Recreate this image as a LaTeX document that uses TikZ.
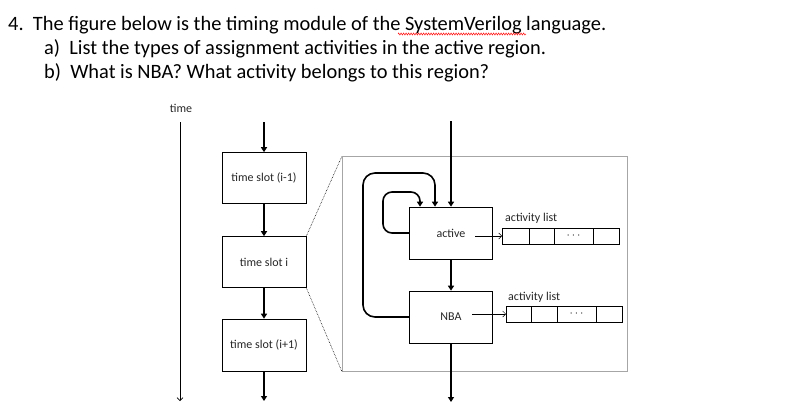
\documentclass[tikz,border=0pt]{standalone}
\usepackage{fontspec}
\setmainfont{Carlito}
\usetikzlibrary{arrows.meta,decorations.pathmorphing}
\begin{document}
\begin{tikzpicture}[x=1pt,y=-1pt,
  hd/.style={anchor=base west,inner sep=0,font=\fontsize{20.4}{24}\selectfont},
  sm/.style={inner sep=0,font=\fontsize{12}{14}\selectfont,text=black!85},
  box/.style={draw,line width=0.6pt},
  thick arr/.style={line width=1.6pt,-{Triangle[length=5pt,width=6pt]}},
  thin arr/.style={line width=0.5pt,-{Straight Barb[length=3pt,width=6pt]}}]
\useasboundingbox (0,0) rectangle (791,416);
\node[hd] (q) at (8,30) {4.\ \ The figure below is the timing module of the SystemVerilog language.};
\node[hd] (qa) at (44,54) {a)\ \ List the types of assignment activities in the active region.};
\node[hd] (qb) at (44,78) {b)\ \ What is NBA? What activity belongs to this region?};
\coordinate (w1) at (398,34); \coordinate (w2) at (526,34);
\draw[red,line width=0.5pt,decorate,decoration={zigzag,amplitude=1pt,segment length=2.5pt}] (w1) -- (w2);
% time axis
\node[sm] (time) at (181,108) {time};
\coordinate (t0) at (180,122); \coordinate (t1) at (180,401);
\draw[thin arr,line width=0.6pt] (t0) -- (t1);
% time slots
\node[box,sm,minimum width=84pt,minimum height=51pt] (s1) at (264,178) {time slot (i-1)};
\node[box,sm,minimum width=84pt,minimum height=51pt] (s2) at (264,262) {time slot i};
\node[box,sm,minimum width=84pt,minimum height=52pt] (s3) at (264,345) {time slot (i+1)};
\coordinate (sa) at (264,122); \coordinate (sb) at (264,401);
\draw[thick arr] (sa) -- (s1);
\draw[thick arr] (s1) -- (s2);
\draw[thick arr] (s2) -- (s3);
\draw[thick arr] (s3) -- (sb);
% zoom frame
\node[draw=black!35,line width=0.8pt,minimum width=285pt,minimum height=215pt,inner sep=0,anchor=north west] (fr) at (342,156) {};
\draw[densely dotted,line width=0.6pt] (s2.north east) -- (fr.north west);
\draw[densely dotted,line width=0.6pt] (s2.south east) -- (fr.south west);
% active / NBA
\node[box,sm,minimum width=83pt,minimum height=52pt] (act) at (451,233) {active};
\node[box,sm,minimum width=83pt,minimum height=52pt] (nba) at (451,317) {NBA};
\coordinate (ca) at (451,121); \coordinate (cb) at (451,402);
\draw[thick arr] (ca) -- (act);
\draw[thick arr] (act) -- (nba);
\draw[thick arr] (nba) -- (cb);
\coordinate (l1) at (383,192);
\draw[thick arr,rounded corners=9pt] (act.west |- 0,233) -| (l1) -| ([xshift=-31pt]act.north);
\coordinate (o1) at (363,173);
\draw[thick arr,rounded corners=12pt] (nba.west |- 0,317) -| (o1) -| ([xshift=-16pt]act.north);
% activity lists
\node[sm,anchor=base west] (al1) at (505,221) {activity list};
\node[sm,anchor=base west] (al2) at (508,300) {activity list};
\node[box,line width=0.5pt,minimum width=117pt,minimum height=16pt,inner sep=0,anchor=west] (L1) at (502,236) {};
\node[box,line width=0.5pt,minimum width=116pt,minimum height=16pt,inner sep=0,anchor=west] (L2) at (506,314) {};
\foreach \x in {529,554,593} \draw[line width=0.5pt] (\x,228) -- (\x,244);
\foreach \x in {531,557,596} \draw[line width=0.5pt] (\x,306) -- (\x,322);
\node[sm] (d1) at (573.5,236) {\bfseries$\cdots$};
\node[sm] (d2) at (576.5,314) {\bfseries$\cdots$};
\coordinate (a1) at (475,236); \coordinate (a2) at (472,314);
\draw[thin arr] (a1) -- (L1.west);
\draw[thin arr] (a2) -- (L2.west);
\end{tikzpicture}
\end{document}
